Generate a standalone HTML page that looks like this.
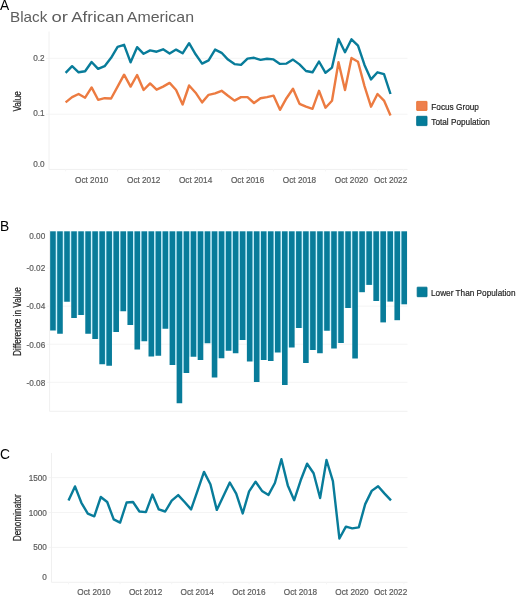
<!DOCTYPE html>
<html lang="en"><head><meta charset="utf-8"><title>Black or African American</title>
<style>html,body{margin:0;padding:0;background:#fff}svg{display:block;filter:blur(0.45px)}</style></head>
<body>
<svg width="520" height="606" viewBox="0 0 520 606">
<rect width="520" height="606" fill="#fff"/>
<g font-family="Liberation Sans, Arial, sans-serif" font-size="13.8" fill="#000">
<text x="0" y="9.8">A</text><text x="0" y="230.7">B</text><text x="0" y="458.9">C</text></g>
<text y="21.9" font-family="Liberation Sans, Arial, sans-serif" font-size="14.8" fill="#5e5e5e"><tspan x="10.0" textLength="37.4" lengthAdjust="spacingAndGlyphs">Black</tspan> <tspan x="51.6" textLength="16.4" lengthAdjust="spacingAndGlyphs">or</tspan> <tspan x="71.2" textLength="53.0" lengthAdjust="spacingAndGlyphs">African</tspan> <tspan x="126.8" textLength="67.2" lengthAdjust="spacingAndGlyphs">American</tspan></text>
<g stroke="#f4f4f4" stroke-width="1">
<line x1="46.0" x2="407.5" y1="58.3" y2="58.3"/>
<line x1="46.0" x2="407.5" y1="114.2" y2="114.2"/>
</g>
<g stroke="#f0f0f0" stroke-width="1" fill="none">
<line x1="49.0" x2="49.0" y1="31.5" y2="169.4"/><line x1="49.0" x2="407.5" y1="169.4" y2="169.4"/>
<line x1="65.6" x2="65.6" y1="169.4" y2="171.4" stroke="#f5f5f5"/>
<line x1="91.6" x2="91.6" y1="169.4" y2="171.4" stroke="#f5f5f5"/>
<line x1="117.6" x2="117.6" y1="169.4" y2="171.4" stroke="#f5f5f5"/>
<line x1="143.6" x2="143.6" y1="169.4" y2="171.4" stroke="#f5f5f5"/>
<line x1="169.6" x2="169.6" y1="169.4" y2="171.4" stroke="#f5f5f5"/>
<line x1="195.5" x2="195.5" y1="169.4" y2="171.4" stroke="#f5f5f5"/>
<line x1="221.5" x2="221.5" y1="169.4" y2="171.4" stroke="#f5f5f5"/>
<line x1="247.5" x2="247.5" y1="169.4" y2="171.4" stroke="#f5f5f5"/>
<line x1="273.5" x2="273.5" y1="169.4" y2="171.4" stroke="#f5f5f5"/>
<line x1="299.5" x2="299.5" y1="169.4" y2="171.4" stroke="#f5f5f5"/>
<line x1="325.5" x2="325.5" y1="169.4" y2="171.4" stroke="#f5f5f5"/>
<line x1="351.5" x2="351.5" y1="169.4" y2="171.4" stroke="#f5f5f5"/>
<line x1="377.5" x2="377.5" y1="169.4" y2="171.4" stroke="#f5f5f5"/>
<line x1="403.5" x2="403.5" y1="169.4" y2="171.4" stroke="#f5f5f5"/>
</g>
<polyline points="65.6,102.4 72.1,97.1 78.6,94.0 85.1,97.7 91.6,87.4 98.1,99.8 104.6,98.2 111.1,98.5 117.6,86.6 124.1,74.7 130.6,86.6 137.1,75.0 143.6,90.0 150.1,83.4 156.6,89.7 163.1,86.6 169.6,82.9 176.1,90.0 182.6,104.5 189.1,85.5 195.6,92.7 202.1,102.4 208.6,94.8 215.1,93.4 221.6,90.8 228.0,95.8 234.5,100.6 241.0,97.1 247.5,97.1 254.0,103.0 260.5,98.2 267.0,97.1 273.5,95.6 280.0,109.8 286.5,98.2 293.0,88.7 299.5,103.8 306.0,106.7 312.5,108.8 319.0,90.8 325.5,107.7 332.0,100.8 338.5,62.3 345.0,90.0 351.5,58.0 358.0,61.7 364.5,86.1 371.0,106.7 377.5,94.0 384.0,100.6 390.5,115.6" fill="none" stroke="#ec7b41" stroke-width="2.4" stroke-linejoin="round" stroke-linecap="butt"/>
<polyline points="65.6,72.8 72.1,66.2 78.6,72.3 85.1,71.3 91.6,62.0 98.1,68.9 104.6,66.2 111.1,57.8 117.6,46.9 124.1,44.8 130.6,62.3 137.1,47.2 143.6,53.8 150.1,50.4 156.6,51.7 163.1,49.3 169.6,53.6 176.1,49.6 182.6,53.3 189.1,43.2 195.6,54.3 202.1,63.6 208.6,60.4 215.1,49.6 221.6,52.8 228.0,59.6 234.5,64.1 241.0,64.9 247.5,58.6 254.0,57.8 260.5,59.9 267.0,58.8 273.5,59.4 280.0,63.9 286.5,63.6 293.0,59.6 299.5,64.4 306.0,71.0 312.5,72.3 319.0,61.5 325.5,72.8 332.0,67.6 338.5,39.0 345.0,52.2 351.5,39.3 358.0,45.6 364.5,64.9 371.0,79.4 377.5,72.3 384.0,74.2 390.5,94.0" fill="none" stroke="#087c9a" stroke-width="2.4" stroke-linejoin="round" stroke-linecap="butt"/>
<text transform="translate(44.60,60.50) scale(0.838,1)" text-anchor="end" font-family="Liberation Sans, Arial, sans-serif" font-size="9.8" fill="#5c5c5c" stroke="#5c5c5c" stroke-width="0.22">0.2</text>
<text transform="translate(44.60,116.40) scale(0.838,1)" text-anchor="end" font-family="Liberation Sans, Arial, sans-serif" font-size="9.8" fill="#5c5c5c" stroke="#5c5c5c" stroke-width="0.22">0.1</text>
<text transform="translate(44.60,167.10) scale(0.838,1)" text-anchor="end" font-family="Liberation Sans, Arial, sans-serif" font-size="9.8" fill="#5c5c5c" stroke="#5c5c5c" stroke-width="0.22">0.0</text>
<text transform="translate(91.70,182.70) scale(0.838,1)" text-anchor="middle" font-family="Liberation Sans, Arial, sans-serif" font-size="9.8" fill="#5c5c5c" stroke="#5c5c5c" stroke-width="0.22">Oct 2010</text>
<text transform="translate(143.65,182.70) scale(0.838,1)" text-anchor="middle" font-family="Liberation Sans, Arial, sans-serif" font-size="9.8" fill="#5c5c5c" stroke="#5c5c5c" stroke-width="0.22">Oct 2012</text>
<text transform="translate(195.60,182.70) scale(0.838,1)" text-anchor="middle" font-family="Liberation Sans, Arial, sans-serif" font-size="9.8" fill="#5c5c5c" stroke="#5c5c5c" stroke-width="0.22">Oct 2014</text>
<text transform="translate(247.55,182.70) scale(0.838,1)" text-anchor="middle" font-family="Liberation Sans, Arial, sans-serif" font-size="9.8" fill="#5c5c5c" stroke="#5c5c5c" stroke-width="0.22">Oct 2016</text>
<text transform="translate(299.50,182.70) scale(0.838,1)" text-anchor="middle" font-family="Liberation Sans, Arial, sans-serif" font-size="9.8" fill="#5c5c5c" stroke="#5c5c5c" stroke-width="0.22">Oct 2018</text>
<text transform="translate(351.45,182.70) scale(0.838,1)" text-anchor="middle" font-family="Liberation Sans, Arial, sans-serif" font-size="9.8" fill="#5c5c5c" stroke="#5c5c5c" stroke-width="0.22">Oct 2020</text>
<text transform="translate(407.20,182.70) scale(0.838,1)" text-anchor="end" font-family="Liberation Sans, Arial, sans-serif" font-size="9.8" fill="#5c5c5c" stroke="#5c5c5c" stroke-width="0.22">Oct 2022</text>
<text transform="translate(20.60,101.30) rotate(-90) scale(0.823,1)" text-anchor="middle" font-family="Liberation Sans, Arial, sans-serif" font-size="10.0" fill="#262626" stroke="#262626" stroke-width="0.22">Value</text>
<rect x="416.7" y="101.4" width="10.3" height="9" rx="0.3" fill="#ee7f4c" stroke="#e9712f" stroke-width="0.9"/><rect x="416.7" y="116.3" width="10.3" height="9.3" rx="0.3" fill="#047c99" stroke="#006f8d" stroke-width="0.9"/>
<text transform="translate(431.30,109.60) scale(0.84,1)" text-anchor="start" font-family="Liberation Sans, Arial, sans-serif" font-size="9.8" fill="#262626" stroke="#262626" stroke-width="0.22">Focus Group</text>
<text transform="translate(431.30,124.80) scale(0.84,1)" text-anchor="start" font-family="Liberation Sans, Arial, sans-serif" font-size="9.8" fill="#262626" stroke="#262626" stroke-width="0.22">Total Population</text>
<g stroke="#f4f4f4" stroke-width="1">
<line x1="46.6" x2="407.5" y1="268" y2="268"/>
<line x1="46.6" x2="407.5" y1="306.1" y2="306.1"/>
<line x1="46.6" x2="407.5" y1="344.2" y2="344.2"/>
<line x1="46.6" x2="407.5" y1="382.3" y2="382.3"/>
</g>
<g stroke="#f0f0f0" stroke-width="1" fill="none">
<line x1="49.6" x2="49.6" y1="230" y2="411.3"/><line x1="49.6" x2="407.5" y1="411.3" y2="411.3"/>
</g>
<g fill="#cff4ff">
<rect x="55.55" y="231.3" width="1.83" height="99.20"/>
<rect x="62.58" y="231.3" width="1.83" height="70.45"/>
<rect x="69.60" y="231.3" width="1.83" height="70.45"/>
<rect x="76.63" y="231.3" width="1.83" height="83.70"/>
<rect x="83.65" y="231.3" width="1.83" height="83.70"/>
<rect x="90.68" y="231.3" width="1.83" height="102.45"/>
<rect x="97.71" y="231.3" width="1.83" height="107.70"/>
<rect x="104.73" y="231.3" width="1.83" height="132.95"/>
<rect x="111.76" y="231.3" width="1.83" height="100.70"/>
<rect x="118.78" y="231.3" width="1.83" height="79.95"/>
<rect x="125.81" y="231.3" width="1.83" height="79.95"/>
<rect x="132.84" y="231.3" width="1.83" height="93.70"/>
<rect x="139.86" y="231.3" width="1.83" height="109.95"/>
<rect x="146.89" y="231.3" width="1.83" height="109.95"/>
<rect x="153.91" y="231.3" width="1.83" height="124.45"/>
<rect x="160.94" y="231.3" width="1.83" height="97.45"/>
<rect x="167.97" y="231.3" width="1.83" height="97.45"/>
<rect x="174.99" y="231.3" width="1.83" height="133.70"/>
<rect x="182.02" y="231.3" width="1.83" height="141.70"/>
<rect x="189.04" y="231.3" width="1.83" height="125.45"/>
<rect x="196.07" y="231.3" width="1.83" height="125.45"/>
<rect x="203.10" y="231.3" width="1.83" height="111.95"/>
<rect x="210.12" y="231.3" width="1.83" height="111.95"/>
<rect x="217.15" y="231.3" width="1.83" height="126.95"/>
<rect x="224.17" y="231.3" width="1.83" height="119.45"/>
<rect x="231.20" y="231.3" width="1.83" height="119.45"/>
<rect x="238.23" y="231.3" width="1.83" height="108.70"/>
<rect x="245.25" y="231.3" width="1.83" height="108.70"/>
<rect x="252.28" y="231.3" width="1.83" height="130.20"/>
<rect x="259.30" y="231.3" width="1.83" height="128.70"/>
<rect x="266.33" y="231.3" width="1.83" height="128.70"/>
<rect x="273.36" y="231.3" width="1.83" height="121.20"/>
<rect x="280.38" y="231.3" width="1.83" height="121.20"/>
<rect x="287.41" y="231.3" width="1.83" height="116.20"/>
<rect x="294.43" y="231.3" width="1.83" height="96.70"/>
<rect x="301.46" y="231.3" width="1.83" height="96.70"/>
<rect x="308.49" y="231.3" width="1.83" height="118.70"/>
<rect x="315.51" y="231.3" width="1.83" height="118.70"/>
<rect x="322.54" y="231.3" width="1.83" height="99.45"/>
<rect x="329.56" y="231.3" width="1.83" height="99.45"/>
<rect x="336.59" y="231.3" width="1.83" height="111.70"/>
<rect x="343.62" y="231.3" width="1.83" height="76.70"/>
<rect x="350.64" y="231.3" width="1.83" height="76.70"/>
<rect x="357.67" y="231.3" width="1.83" height="60.90"/>
<rect x="364.69" y="231.3" width="1.83" height="53.60"/>
<rect x="371.72" y="231.3" width="1.83" height="53.60"/>
<rect x="378.75" y="231.3" width="1.83" height="69.70"/>
<rect x="385.77" y="231.3" width="1.83" height="70.30"/>
<rect x="392.80" y="231.3" width="1.83" height="70.30"/>
<rect x="399.82" y="231.3" width="1.83" height="73.00"/>
</g>
<g fill="#087c9a">
<rect x="50.15" y="231.3" width="5.6" height="99.20"/>
<rect x="57.18" y="231.3" width="5.6" height="102.45"/>
<rect x="64.20" y="231.3" width="5.6" height="70.45"/>
<rect x="71.23" y="231.3" width="5.6" height="86.70"/>
<rect x="78.25" y="231.3" width="5.6" height="83.70"/>
<rect x="85.28" y="231.3" width="5.6" height="102.45"/>
<rect x="92.31" y="231.3" width="5.6" height="107.70"/>
<rect x="99.33" y="231.3" width="5.6" height="132.95"/>
<rect x="106.36" y="231.3" width="5.6" height="134.45"/>
<rect x="113.38" y="231.3" width="5.6" height="100.70"/>
<rect x="120.41" y="231.3" width="5.6" height="79.95"/>
<rect x="127.44" y="231.3" width="5.6" height="93.70"/>
<rect x="134.46" y="231.3" width="5.6" height="118.20"/>
<rect x="141.49" y="231.3" width="5.6" height="109.95"/>
<rect x="148.51" y="231.3" width="5.6" height="125.20"/>
<rect x="155.54" y="231.3" width="5.6" height="124.45"/>
<rect x="162.57" y="231.3" width="5.6" height="97.45"/>
<rect x="169.59" y="231.3" width="5.6" height="133.70"/>
<rect x="176.62" y="231.3" width="5.6" height="171.95"/>
<rect x="183.64" y="231.3" width="5.6" height="141.70"/>
<rect x="190.67" y="231.3" width="5.6" height="125.45"/>
<rect x="197.70" y="231.3" width="5.6" height="128.70"/>
<rect x="204.72" y="231.3" width="5.6" height="111.95"/>
<rect x="211.75" y="231.3" width="5.6" height="146.20"/>
<rect x="218.77" y="231.3" width="5.6" height="126.95"/>
<rect x="225.80" y="231.3" width="5.6" height="119.45"/>
<rect x="232.83" y="231.3" width="5.6" height="121.95"/>
<rect x="239.85" y="231.3" width="5.6" height="108.70"/>
<rect x="246.88" y="231.3" width="5.6" height="130.20"/>
<rect x="253.90" y="231.3" width="5.6" height="150.70"/>
<rect x="260.93" y="231.3" width="5.6" height="128.70"/>
<rect x="267.96" y="231.3" width="5.6" height="129.70"/>
<rect x="274.98" y="231.3" width="5.6" height="121.20"/>
<rect x="282.01" y="231.3" width="5.6" height="153.70"/>
<rect x="289.03" y="231.3" width="5.6" height="116.20"/>
<rect x="296.06" y="231.3" width="5.6" height="96.70"/>
<rect x="303.09" y="231.3" width="5.6" height="131.70"/>
<rect x="310.11" y="231.3" width="5.6" height="118.70"/>
<rect x="317.14" y="231.3" width="5.6" height="121.95"/>
<rect x="324.16" y="231.3" width="5.6" height="99.45"/>
<rect x="331.19" y="231.3" width="5.6" height="117.20"/>
<rect x="338.22" y="231.3" width="5.6" height="111.70"/>
<rect x="345.24" y="231.3" width="5.6" height="76.70"/>
<rect x="352.27" y="231.3" width="5.6" height="127.20"/>
<rect x="359.29" y="231.3" width="5.6" height="60.90"/>
<rect x="366.32" y="231.3" width="5.6" height="53.60"/>
<rect x="373.35" y="231.3" width="5.6" height="69.70"/>
<rect x="380.37" y="231.3" width="5.6" height="91.10"/>
<rect x="387.40" y="231.3" width="5.6" height="70.30"/>
<rect x="394.42" y="231.3" width="5.6" height="88.90"/>
<rect x="401.45" y="231.3" width="5.6" height="73.00"/>
</g>
<text transform="translate(45.20,238.90) scale(0.838,1)" text-anchor="end" font-family="Liberation Sans, Arial, sans-serif" font-size="9.8" fill="#5c5c5c" stroke="#5c5c5c" stroke-width="0.22">0.00</text>
<text transform="translate(45.20,271.30) scale(0.838,1)" text-anchor="end" font-family="Liberation Sans, Arial, sans-serif" font-size="9.8" fill="#5c5c5c" stroke="#5c5c5c" stroke-width="0.22">-0.02</text>
<text transform="translate(45.20,309.40) scale(0.838,1)" text-anchor="end" font-family="Liberation Sans, Arial, sans-serif" font-size="9.8" fill="#5c5c5c" stroke="#5c5c5c" stroke-width="0.22">-0.04</text>
<text transform="translate(45.20,347.50) scale(0.838,1)" text-anchor="end" font-family="Liberation Sans, Arial, sans-serif" font-size="9.8" fill="#5c5c5c" stroke="#5c5c5c" stroke-width="0.22">-0.06</text>
<text transform="translate(45.20,385.60) scale(0.838,1)" text-anchor="end" font-family="Liberation Sans, Arial, sans-serif" font-size="9.8" fill="#5c5c5c" stroke="#5c5c5c" stroke-width="0.22">-0.08</text>
<text transform="translate(20.60,321.60) rotate(-90) scale(0.823,1)" text-anchor="middle" font-family="Liberation Sans, Arial, sans-serif" font-size="10.0" fill="#262626" stroke="#262626" stroke-width="0.22">Difference in Value</text>
<rect x="417.2" y="287.2" width="9.8" height="9.5" rx="0.3" fill="#047c99" stroke="#006f8d" stroke-width="0.9"/>
<text transform="translate(431.00,295.80) scale(0.84,1)" text-anchor="start" font-family="Liberation Sans, Arial, sans-serif" font-size="9.8" fill="#262626" stroke="#262626" stroke-width="0.22">Lower Than Population</text>
<g stroke="#f4f4f4" stroke-width="1">
<line x1="48.5" x2="407.5" y1="477.6" y2="477.6"/>
<line x1="48.5" x2="407.5" y1="512.5" y2="512.5"/>
<line x1="48.5" x2="407.5" y1="547.4" y2="547.4"/>
</g>
<g stroke="#f0f0f0" stroke-width="1" fill="none">
<line x1="51.5" x2="51.5" y1="453" y2="582.3"/><line x1="51.5" x2="407.5" y1="582.3" y2="582.3"/>
<line x1="68.5" x2="68.5" y1="582.3" y2="584.3" stroke="#f5f5f5"/>
<line x1="94.3" x2="94.3" y1="582.3" y2="584.3" stroke="#f5f5f5"/>
<line x1="120.1" x2="120.1" y1="582.3" y2="584.3" stroke="#f5f5f5"/>
<line x1="145.9" x2="145.9" y1="582.3" y2="584.3" stroke="#f5f5f5"/>
<line x1="171.7" x2="171.7" y1="582.3" y2="584.3" stroke="#f5f5f5"/>
<line x1="197.5" x2="197.5" y1="582.3" y2="584.3" stroke="#f5f5f5"/>
<line x1="223.3" x2="223.3" y1="582.3" y2="584.3" stroke="#f5f5f5"/>
<line x1="249.1" x2="249.1" y1="582.3" y2="584.3" stroke="#f5f5f5"/>
<line x1="274.9" x2="274.9" y1="582.3" y2="584.3" stroke="#f5f5f5"/>
<line x1="300.7" x2="300.7" y1="582.3" y2="584.3" stroke="#f5f5f5"/>
<line x1="326.5" x2="326.5" y1="582.3" y2="584.3" stroke="#f5f5f5"/>
<line x1="352.3" x2="352.3" y1="582.3" y2="584.3" stroke="#f5f5f5"/>
<line x1="378.1" x2="378.1" y1="582.3" y2="584.3" stroke="#f5f5f5"/>
<line x1="403.9" x2="403.9" y1="582.3" y2="584.3" stroke="#f5f5f5"/>
</g>
<polyline points="68.5,500.4 75.0,486.4 81.4,502.8 87.8,513.6 94.3,516.3 100.8,497.0 107.2,502.0 113.7,519.4 120.1,522.6 126.6,502.5 133.0,502.0 139.4,511.5 145.9,512.1 152.4,494.6 158.8,509.4 165.2,511.5 171.7,500.7 178.2,495.1 184.6,502.0 191.1,509.4 197.5,490.9 204.0,471.9 210.4,484.3 216.8,509.9 223.3,496.2 229.8,482.5 236.2,493.6 242.7,513.4 249.1,491.4 255.6,481.7 262.0,490.9 268.5,494.9 274.9,483.0 281.4,459.2 287.8,485.4 294.2,500.2 300.7,480.3 307.1,463.7 313.6,473.2 320.1,498.0 326.5,460.0 332.9,481.1 339.4,538.5 345.9,526.6 352.3,528.4 358.8,527.4 365.2,504.1 371.7,490.9 378.1,486.2 384.6,493.6 391.0,500.4" fill="none" stroke="#087c9a" stroke-width="2.4" stroke-linejoin="round" stroke-linecap="butt"/>
<text transform="translate(46.90,480.60) scale(0.838,1)" text-anchor="end" font-family="Liberation Sans, Arial, sans-serif" font-size="9.8" fill="#5c5c5c" stroke="#5c5c5c" stroke-width="0.22">1500</text>
<text transform="translate(46.90,515.50) scale(0.838,1)" text-anchor="end" font-family="Liberation Sans, Arial, sans-serif" font-size="9.8" fill="#5c5c5c" stroke="#5c5c5c" stroke-width="0.22">1000</text>
<text transform="translate(46.90,550.40) scale(0.838,1)" text-anchor="end" font-family="Liberation Sans, Arial, sans-serif" font-size="9.8" fill="#5c5c5c" stroke="#5c5c5c" stroke-width="0.22">500</text>
<text transform="translate(46.90,580.40) scale(0.838,1)" text-anchor="end" font-family="Liberation Sans, Arial, sans-serif" font-size="9.8" fill="#5c5c5c" stroke="#5c5c5c" stroke-width="0.22">0</text>
<text transform="translate(94.00,595.40) scale(0.838,1)" text-anchor="middle" font-family="Liberation Sans, Arial, sans-serif" font-size="9.8" fill="#5c5c5c" stroke="#5c5c5c" stroke-width="0.22">Oct 2010</text>
<text transform="translate(145.60,595.40) scale(0.838,1)" text-anchor="middle" font-family="Liberation Sans, Arial, sans-serif" font-size="9.8" fill="#5c5c5c" stroke="#5c5c5c" stroke-width="0.22">Oct 2012</text>
<text transform="translate(197.20,595.40) scale(0.838,1)" text-anchor="middle" font-family="Liberation Sans, Arial, sans-serif" font-size="9.8" fill="#5c5c5c" stroke="#5c5c5c" stroke-width="0.22">Oct 2014</text>
<text transform="translate(248.80,595.40) scale(0.838,1)" text-anchor="middle" font-family="Liberation Sans, Arial, sans-serif" font-size="9.8" fill="#5c5c5c" stroke="#5c5c5c" stroke-width="0.22">Oct 2016</text>
<text transform="translate(300.40,595.40) scale(0.838,1)" text-anchor="middle" font-family="Liberation Sans, Arial, sans-serif" font-size="9.8" fill="#5c5c5c" stroke="#5c5c5c" stroke-width="0.22">Oct 2018</text>
<text transform="translate(352.00,595.40) scale(0.838,1)" text-anchor="middle" font-family="Liberation Sans, Arial, sans-serif" font-size="9.8" fill="#5c5c5c" stroke="#5c5c5c" stroke-width="0.22">Oct 2020</text>
<text transform="translate(407.20,595.40) scale(0.838,1)" text-anchor="end" font-family="Liberation Sans, Arial, sans-serif" font-size="9.8" fill="#5c5c5c" stroke="#5c5c5c" stroke-width="0.22">Oct 2022</text>
<text transform="translate(20.60,517.70) rotate(-90) scale(0.823,1)" text-anchor="middle" font-family="Liberation Sans, Arial, sans-serif" font-size="10.0" fill="#262626" stroke="#262626" stroke-width="0.22">Denominator</text>
</svg>
</body></html>
